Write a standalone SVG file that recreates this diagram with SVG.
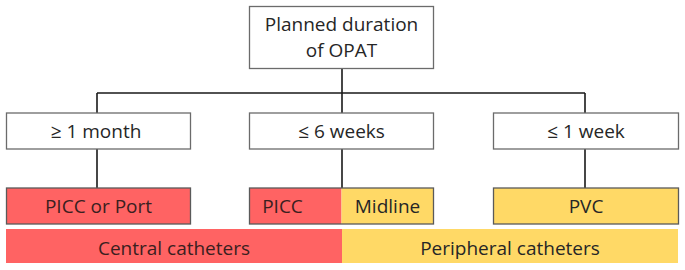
<svg xmlns="http://www.w3.org/2000/svg" width="685" height="270" viewBox="0 0 685 270">
<style>
text{font-family:"Open Sans","Liberation Sans",sans-serif;font-size:19px;fill:#262626;text-anchor:middle}
.box{fill:#fff;stroke:#6b6b6b;stroke-width:1.3}
.red{fill:#ff6363}
.yel{fill:#ffd966}
.cat{stroke:#5a5a5a;stroke-width:1.3}
.dark{fill:#3a2020}
.ln{stroke:#1a1a1a;stroke-width:1.6;fill:none}
</style>
<rect width="685" height="270" fill="#fff"/>
<g id="connectors">
<path class="ln" d="M342 68V113M97 93H585M97 93V113M585 93V113M97 149V188M342 149V188M585 149V188"/>
</g>
<g id="root">
<rect class="box" x="249.5" y="6.5" width="184" height="62"/>
<text x="341.5" y="31">Planned duration</text>
<text x="341.5" y="57">of OPAT</text>
</g>
<g id="month">
<rect class="box" x="6.5" y="113" width="184" height="36"/>
<text x="96" y="138">≥ 1 month</text>
</g>
<g id="weeks6">
<rect class="box" x="249.5" y="113" width="184" height="36"/>
<text x="341.5" y="138">≤ 6 weeks</text>
</g>
<g id="week1">
<rect class="box" x="493.5" y="113" width="185" height="36"/>
<text x="586" y="138">≤ 1 week</text>
</g>
<g id="picc-port">
<rect class="red cat" x="6.5" y="188" width="184" height="36"/>
<text class="dark" x="98.5" y="213">PICC or Port</text>
</g>
<g id="picc-midline">
<rect class="red" x="249.5" y="188" width="92" height="36"/>
<rect class="yel" x="341.5" y="188" width="92" height="36"/>
<rect x="249.5" y="188" width="184" height="36" fill="none" class="cat"/>
<text class="dark" x="282.5" y="213">PICC</text>
<text x="387.5" y="213">Midline</text>
</g>
<g id="pvc">
<rect class="yel cat" x="493.5" y="188" width="185" height="36"/>
<text x="586" y="213">PVC</text>
</g>
<g id="central">
<rect class="red" x="6" y="229" width="336" height="34"/>
<text class="dark" x="174" y="255">Central catheters</text>
</g>
<g id="peripheral">
<rect class="yel" x="342" y="229" width="336" height="34"/>
<text x="510" y="255">Peripheral catheters</text>
</g>
</svg>
